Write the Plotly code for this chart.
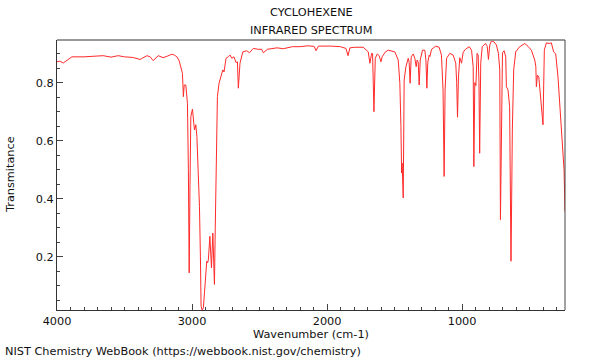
import plotly.graph_objects as go

title_lines = ["CYCLOHEXENE", "INFRARED SPECTRUM"]
x_label = "Wavenumber (cm-1)"
y_label = "Transmitance"
footer = "NIST Chemistry WebBook (https://webbook.nist.gov/chemistry)"

x_tick_vals = [1000, 2000, 3000, 4000]
y_tick_vals = [0.2, 0.4, 0.6, 0.8]

wavenumber = [
    4000, 3980, 3953, 3920, 3890, 3800, 3700, 3658, 3600, 3547, 3500, 3440, 3384, 3334,
    3310, 3288, 3250, 3214, 3180, 3150, 3130, 3112, 3095, 3083, 3071, 3064, 3058, 3046,
    3034, 3027, 3021, 3015, 3009, 2997, 2988, 2982, 2972, 2964, 2955, 2945, 2938, 2933,
    2925, 2916, 2908, 2900, 2891, 2884, 2879, 2868, 2856, 2846, 2840, 2834, 2828, 2822,
    2812, 2800, 2780, 2772, 2763, 2748, 2730, 2718, 2706, 2689, 2674, 2664, 2657, 2650,
    2645, 2624, 2595, 2575, 2546, 2510, 2484, 2472, 2442, 2371, 2324, 2257, 2200, 2143,
    2095, 2082, 2064, 1973, 1902, 1860, 1845, 1831, 1794, 1732, 1700, 1695, 1683, 1670,
    1663, 1653, 1643, 1628, 1614, 1601, 1592, 1570, 1547, 1520, 1498, 1473, 1461, 1453,
    1448, 1444, 1436, 1429, 1416, 1399, 1392, 1385, 1377, 1362, 1350, 1340, 1333, 1325,
    1318, 1310, 1293, 1276, 1268, 1261, 1254, 1244, 1239, 1226, 1195, 1170, 1153, 1141,
    1133, 1126, 1115, 1091, 1066, 1047, 1040, 1034, 1027, 1017, 1004, 992, 975, 947,
    930, 918, 913, 906, 898, 889, 881, 875, 870, 862, 851, 826, 814, 805,
    795, 783, 763, 746, 731, 721, 716, 709, 701, 689, 677, 672, 660, 648,
    643, 638, 633, 628, 618, 603, 578, 536, 511, 487, 462, 454, 450, 442,
    432, 413, 401, 391, 376, 356, 339, 322, 307, 290, 265, 245, 238,
]

transmittance = [
    0.872, 0.874, 0.868, 0.880, 0.889, 0.889, 0.891, 0.893, 0.888, 0.893, 0.889, 0.887, 0.880, 0.893,
    0.889, 0.876, 0.893, 0.886, 0.892, 0.898, 0.895, 0.889, 0.875, 0.855, 0.832, 0.752, 0.792, 0.792,
    0.729, 0.500, 0.145, 0.450, 0.683, 0.709, 0.670, 0.637, 0.655, 0.614, 0.500, 0.374, 0.200, 0.030,
    0.017, 0.025, 0.076, 0.150, 0.185, 0.180, 0.190, 0.271, 0.162, 0.282, 0.200, 0.105, 0.300, 0.489,
    0.752, 0.798, 0.838, 0.844, 0.837, 0.884, 0.890, 0.895, 0.884, 0.889, 0.869, 0.872, 0.781, 0.840,
    0.867, 0.906, 0.910, 0.903, 0.918, 0.915, 0.915, 0.903, 0.915, 0.920, 0.917, 0.924, 0.924, 0.927,
    0.925, 0.910, 0.926, 0.926, 0.924, 0.918, 0.893, 0.920, 0.922, 0.922, 0.910, 0.906, 0.867, 0.901,
    0.900, 0.700, 0.884, 0.899, 0.893, 0.872, 0.889, 0.905, 0.912, 0.910, 0.906, 0.878, 0.798, 0.649,
    0.489, 0.523, 0.403, 0.809, 0.855, 0.884, 0.870, 0.798, 0.889, 0.899, 0.884, 0.855, 0.878, 0.870,
    0.792, 0.878, 0.912, 0.912, 0.878, 0.781, 0.870, 0.895, 0.890, 0.915, 0.926, 0.922, 0.895, 0.775,
    0.477, 0.775, 0.884, 0.901, 0.895, 0.867, 0.800, 0.681, 0.820, 0.886, 0.867, 0.905, 0.915, 0.924,
    0.912, 0.855, 0.511, 0.800, 0.790, 0.901, 0.895, 0.800, 0.557, 0.867, 0.924, 0.935, 0.925, 0.880,
    0.930, 0.944, 0.940, 0.930, 0.901, 0.844, 0.328, 0.752, 0.903, 0.910, 0.889, 0.786, 0.775, 0.718,
    0.500, 0.185, 0.400, 0.637, 0.844, 0.906, 0.922, 0.935, 0.925, 0.912, 0.878, 0.855, 0.786, 0.826,
    0.820, 0.718, 0.655, 0.912, 0.937, 0.935, 0.937, 0.906, 0.900, 0.820, 0.660, 0.500, 0.357,
]

W, H = 600, 360
L, R, T, B = 57, 35, 40, 50
pw, ph = W - L - R, H - T - B


def px_x(px):
    return (px - L) / pw


def px_y(py):
    return (H - B - py) / ph


FONT = "DejaVu Sans"
FS = 11.3

fig = go.Figure()
fig.add_trace(go.Scatter(
    x=wavenumber, y=transmittance, mode="lines",
    line=dict(color="#ff2a2a", width=1), hoverinfo="skip", showlegend=False,
))

axis_common = dict(
    showgrid=False, zeroline=False, showline=True, linecolor="#333333", linewidth=1,
    ticks="inside", ticklen=6, tickcolor="#444444", tickwidth=1,
    tickfont=dict(family=FONT, size=FS, color="#111111"),
)

fig.update_xaxes(
    range=[4000, 238], tickvals=x_tick_vals, ticktext=[str(v) for v in x_tick_vals],
    minor=dict(dtick=100, tick0=0, ticks="inside", ticklen=3, tickcolor="#444444"),
    **axis_common,
)
fig.update_yaxes(
    range=[0.017, 0.947], tickvals=y_tick_vals, ticktext=[f"{v:.1f}" for v in y_tick_vals],
    minor=dict(dtick=0.05, tick0=0, ticks="inside", ticklen=3, tickcolor="#444444"),
    **axis_common,
)

shapes = [
    dict(type="line", xref="paper", yref="paper", x0=0, x1=1, y0=1, y1=1,
         line=dict(color="#999999", width=2)),
    dict(type="line", xref="paper", yref="paper", x0=1, x1=1, y0=0, y1=1,
         line=dict(color="#444444", width=1)),
]

annotations = [
    dict(text=title_lines[0], x=0.5, y=px_y(13), xref="paper", yref="paper",
         showarrow=False, xanchor="center", yanchor="middle",
         font=dict(family=FONT, size=FS, color="#111111")),
    dict(text=title_lines[1], x=0.5, y=px_y(30), xref="paper", yref="paper",
         showarrow=False, xanchor="center", yanchor="middle",
         font=dict(family=FONT, size=FS, color="#111111")),
    dict(text=x_label, x=0.5, y=px_y(334), xref="paper", yref="paper",
         showarrow=False, xanchor="center", yanchor="middle",
         font=dict(family=FONT, size=FS, color="#111111")),
    dict(text=y_label, x=px_x(10), y=px_y(175), xref="paper", yref="paper",
         showarrow=False, xanchor="center", yanchor="middle", textangle=-90,
         font=dict(family=FONT, size=FS, color="#111111")),
    dict(text=footer, x=px_x(3), y=px_y(352), xref="paper", yref="paper",
         showarrow=False, xanchor="left", yanchor="middle",
         font=dict(family=FONT, size=FS, color="#111111")),
]

fig.update_layout(
    width=W, height=H, margin=dict(l=L, r=R, t=T, b=B, pad=0),
    paper_bgcolor="white", plot_bgcolor="white",
    shapes=shapes, annotations=annotations,
)

fig.write_html(
    "out.html",
    config={"displayModeBar": False, "staticPlot": True},
    post_script="document.body.style.margin='0';document.body.style.overflow='hidden';",
)
